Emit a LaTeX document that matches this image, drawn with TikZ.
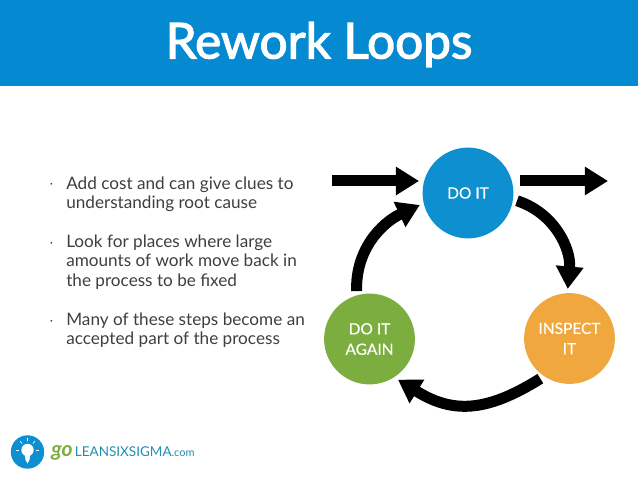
\documentclass[tikz,border=0pt]{standalone}
\usepackage{fontspec}
\setmainfont{Lato}
\newfontfamily\titlefont[FakeBold=2.4]{Lato}
\newfontfamily\stepfont[FakeBold=.35]{Lato}
\usetikzlibrary{arrows.meta}
\definecolor{headblue}{HTML}{0589D0}
\definecolor{doblue}{HTML}{0D8FD0}
\definecolor{againgreen}{HTML}{7BAE3E}
\definecolor{inspectorange}{HTML}{F0A83E}
\definecolor{bodygray}{HTML}{3F3F3F}
\definecolor{logoteal}{HTML}{1F8FB0}
\tikzset{
  stepcircle/.style={circle,minimum size=2.27cm,inner sep=0pt,outer sep=3pt,text=white,font=\stepfont\fontsize{11}{14.5}\selectfont,align=center},
  straightflow/.style={line width=.275cm,-{Triangle[length=.58cm,width=.68cm]}},
  curveflow/.style={line width=.275cm,-{Triangle[length=.56cm,width=.66cm]}},
  bodytext/.style={anchor=north west,align=left,text=bodygray,inner sep=0pt,font=\fontsize{12.2}{13.9}\selectfont},
}
\begin{document}
\begin{tikzpicture}[x=.025cm,y=.025cm]
    \useasboundingbox (0,0) rectangle (638,479);
    \fill[headblue] (0,393) rectangle (638,479);
    \node[text=white,font=\titlefont\fontsize{35.2}{38}\selectfont] (title) at (319,434.5) {Rework Loops};
    % left column
    \foreach \y in {294,235,157}
    \node[text=bodygray,inner sep=0pt,font=\large] at (51.5,\y) {$\cdot$};
    \node[bodytext] (first) at (66,302.5) {Add cost and can give clues to\\understanding root cause};
    \node[bodytext] (second) at (66,244.5) {Look for places where large\\amounts of work move back in\\the process to be fixed};
    \node[bodytext] (third) at (66,166.5) {Many of these steps become an\\accepted part of the process};
    % the three steps
    \node[stepcircle,fill=doblue] (do) at (468,286) {DO IT};
    \node[stepcircle,fill=inspectorange] (inspect) at (569.5,140.5) {INSPECT\\IT};
    \node[stepcircle,fill=againgreen] (again) at (369.5,140) {DO IT\\AGAIN};
    \coordinate (infeed) at (332,298);
    \coordinate (outfeed) at (520,298);
    \coordinate (outtip) at (608,298);
    \coordinate (intip) at (419,298);
    \draw[straightflow] (infeed) -- (intip);
    \draw[straightflow] (outfeed) -- (outtip);
    \draw[curveflow] (again.105) to[out=92,in=205] (do.194);
    \draw[curveflow] (do.-9) to[out=-18,in=85] (inspect.92);
    \draw[curveflow] (inspect.-126) to[out=212,in=-32,looseness=1.15] (again.-55);
    % logo
    \fill[doblue] (27.5,27) circle (16.7);
    \fill[white] (27.5,29) circle (6.2);
    \fill[white] (24.5,26) -- (30.5,26) -- (29.5,19) -- (27.5,15.5) -- (25.5,19) -- cycle;
    \foreach \a in {0,50,90,130,180}
    \draw[white,line width=.5pt] (27.5,29) ++(\a:8.5) -- ++(\a:3);
    \node[anchor=base west,inner sep=0pt] (logo) at (51,22) {\fontsize{15}{15}\selectfont\itshape\bfseries\textcolor{againgreen}{go}\fontsize{9.6}{10}\selectfont\upshape\mdseries\textcolor{logoteal}{\,LEANSIXSIGMA}\fontsize{7.8}{8}\selectfont\textcolor{logoteal}{.com}};
  \end{tikzpicture}
\end{document}
